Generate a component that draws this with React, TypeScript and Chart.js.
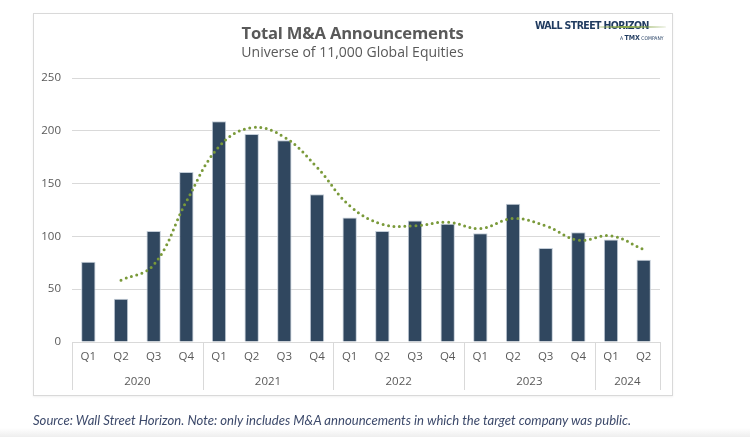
import React, { useEffect, useRef } from "react";
import { Chart, registerables } from "chart.js";

Chart.register(...registerables);

const quarters = ["Q1", "Q2", "Q3", "Q4", "Q1", "Q2", "Q3", "Q4", "Q1", "Q2", "Q3", "Q4", "Q1", "Q2", "Q3", "Q4", "Q1", "Q2"];
const years = ["2020", "2021", "2022", "2023", "2024"];
const yearSpans = [4, 4, 4, 4, 2];
const announcements = [76, 41, 105, 161, 209, 197, 191, 140, 118, 105, 115, 112, 103, 131, 89, 104, 97, 78];
const trend = [null, 58.5, 73, 133, 185, 203, 194, 165.5, 129, 111.5, 110, 113.5, 107.5, 117, 110, 96.5, 100.5, 87.5];
const yMin = 0;
const yMax = 250;
const yStep = 50;

const GRID = "#d9d9d9";
const TEXT = "#595959";
const FONT = "'Open Sans', sans-serif";

const yearRowPlugin = {
  id: "yearRow",
  afterDraw(chart: any) {
    const xs = chart.scales.x;
    const ctx = chart.ctx;
    const n = quarters.length;
    const w = (xs.right - xs.left) / n;
    const top = chart.chartArea.bottom;
    const bottom = top + 48;
    ctx.save();
    ctx.strokeStyle = GRID;
    ctx.lineWidth = 1;
    let idx = 0;
    const bounds = [0];
    yearSpans.forEach((s) => {
      idx += s;
      bounds.push(idx);
    });
    bounds.forEach((b) => {
      const px = Math.round(xs.left + b * w) + 0.5;
      ctx.beginPath();
      ctx.moveTo(px, top);
      ctx.lineTo(px, bottom);
      ctx.stroke();
    });
    ctx.fillStyle = TEXT;
    ctx.font = `11.5px ${FONT}`;
    ctx.textAlign = "center";
    ctx.textBaseline = "middle";
    years.forEach((y, i) => {
      const cx = xs.left + ((bounds[i] + bounds[i + 1]) / 2) * w;
      ctx.fillText(y, cx, top + 40);
    });
    ctx.restore();
  },
};

export default function App() {
  const ref = useRef<HTMLCanvasElement>(null);

  useEffect(() => {
    document.body.style.margin = "0";
    const canvas = ref.current!;
    const chart = new Chart(canvas, {
      type: "bar",
      data: {
        labels: quarters,
        datasets: [
          {
            type: "line",
            label: "Trend",
            data: trend,
            borderColor: "#7a9a3a",
            borderWidth: 3,
            borderDash: [0, 5.5],
            borderCapStyle: "round",
            pointRadius: 0,
            tension: 0.4,
            fill: false,
            order: 0,
          } as any,
          {
            type: "bar",
            label: "Announcements",
            data: announcements,
            backgroundColor: "#30475f",
            borderColor: "#c3cdd8",
            borderWidth: 1,
            categoryPercentage: 1,
            barPercentage: 0.44,
            order: 1,
          },
        ],
      },
      options: {
        responsive: false,
        animation: false,
        layout: { padding: { left: 33, right: 90, top: 78, bottom: 47 } },
        plugins: {
          legend: { display: false },
          tooltip: { enabled: false },
          title: { display: false },
        },
        scales: {
          x: {
            grid: { display: false, drawTicks: false },
            border: { display: true, color: GRID },
            ticks: { color: TEXT, font: { family: FONT, size: 11.5 }, padding: 8, maxRotation: 0, autoSkip: false },
            afterFit(scale: any) {
              scale.height = 48;
            },
          },
          y: {
            min: yMin,
            max: yMax,
            ticks: { stepSize: yStep, color: TEXT, font: { family: FONT, size: 11.5 }, padding: 11 },
            grid: { color: GRID, drawTicks: false },
            border: { display: false },
            afterFit(scale: any) {
              scale.width = 39;
            },
          },
        },
      },
      plugins: [yearRowPlugin],
    });
    return () => chart.destroy();
  }, []);

  return (
    <div style={{ position: "relative", width: 750, height: 437, background: "#fff", overflow: "hidden" }}>
      <div
        style={{
          position: "absolute",
          left: 33,
          top: 13,
          width: 638,
          height: 381,
          border: "1px solid #d9d9d9",
          boxShadow: "0 1px 2px rgba(0,0,0,0.06)",
        }}
      />
      <div
        style={{
          position: "absolute",
          left: 0,
          top: 428,
          width: 750,
          height: 9,
          background: "linear-gradient(to bottom, #ffffff, #eeeeee)",
        }}
      />
      <canvas ref={ref} width={750} height={437} style={{ position: "absolute", left: 0, top: 0 }} />
      <div
        style={{
          position: "absolute",
          left: 33,
          width: 639,
          top: 22,
          textAlign: "center",
          fontFamily: FONT,
          color: TEXT,
          fontWeight: 700,
          fontSize: 16.6,
          lineHeight: "22px",
          letterSpacing: -0.2,
        }}
      >
        Total M&amp;A Announcements
      </div>
      <div
        style={{
          position: "absolute",
          left: 33,
          width: 639,
          top: 43,
          textAlign: "center",
          fontFamily: FONT,
          color: TEXT,
          fontSize: 14,
          lineHeight: "18px",
        }}
      >
        Universe of 11,000 Global Equities
      </div>
      <div
        style={{
          position: "absolute",
          left: 535,
          top: 19,
          fontFamily: "'DejaVu Sans Condensed', sans-serif",
          fontWeight: 700,
          fontSize: 10.5,
          color: "#1f3a5f",
          lineHeight: "13px",
          whiteSpace: "nowrap",
          letterSpacing: -0.6,
        }}
      >
        WALL STREET HORIZON
      </div>
      <div
        style={{
          position: "absolute",
          left: 598,
          top: 26,
          width: 68,
          height: 2,
          background: "linear-gradient(to right, rgba(122,154,58,0.2), #8aa84a 40%, rgba(122,154,58,0.1))",
          borderRadius: 1,
        }}
      />
      <div
        style={{
          position: "absolute",
          left: 620,
          top: 35,
          fontFamily: "'DejaVu Sans Condensed', sans-serif",
          fontSize: 5,
          color: "#1f3a5f",
          whiteSpace: "nowrap",
          lineHeight: "7px",
        }}
      >
        A <b style={{ fontSize: 7 }}>TMX</b> COMPANY
      </div>
      <div
        style={{
          position: "absolute",
          left: 33,
          top: 412,
          fontFamily: "Lato, sans-serif",
          fontStyle: "italic",
          fontSize: 13.1,
          color: "#3d4a6b",
          whiteSpace: "nowrap",
          lineHeight: "16px",
        }}
      >
        Source: Wall Street Horizon. Note: only includes M&amp;A announcements in which the target company was public.
      </div>
    </div>
  );
}
